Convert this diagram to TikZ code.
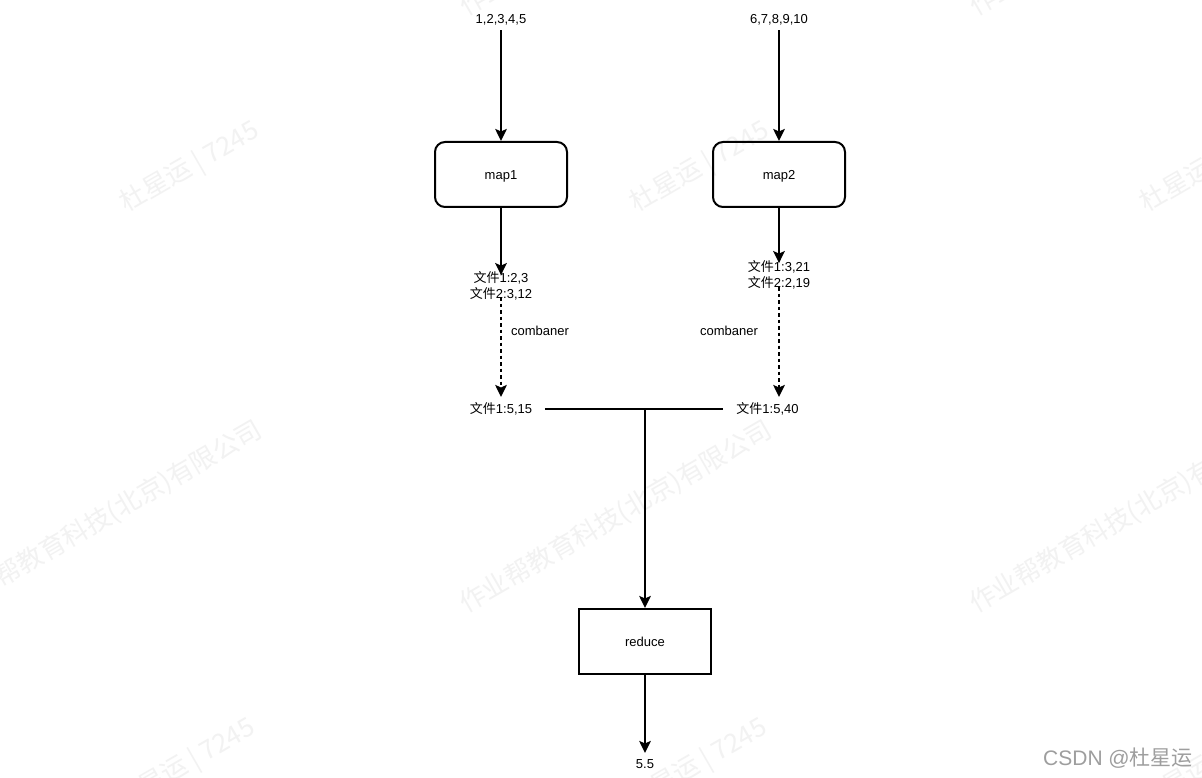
\documentclass[tikz,border=0pt]{standalone}
\usepackage{fontspec}
\setmainfont{Liberation Sans}
\newfontfamily\cjk{Noto Sans CJK SC}
\usetikzlibrary{arrows.meta}
\newcommand\wj{{\cjk 文件}}
\begin{document}
\begin{tikzpicture}[x=1pt,y=-1pt,
  lbl/.style={inner sep=0pt, font=\fontsize{13}{16}\selectfont, text height=9.5pt, text depth=0pt},
  blk/.style={inner sep=0pt, font=\fontsize{13}{16}\selectfont, align=center},
  box/.style={draw, line width=2pt, minimum width=132pt, minimum height=65pt, inner sep=0pt, font=\fontsize{13}{16}\selectfont, text height=9.5pt, text depth=0pt},
  rbox/.style={box, rounded corners=10pt},
  conn/.style={line width=2.3pt, -{Stealth[length=12pt,width=11.5pt,inset=2.5pt]}},
  dotconn/.style={conn, dash pattern=on 3.5pt off 3pt},
  wm/.style={text=black!5, rotate=30, font=\cjk\fontsize{26}{26}\selectfont, inner sep=0pt},
]
\clip (0,0) rectangle (1202,778);
\fill[white] (0,0) rectangle (1202,778);
% watermarks
\node[wm] (wa1) at (190,168) {杜星运 | 7245};
\node[wm] (wa2) at (700,168) {杜星运 | 7245};
\node[wm] (wa3) at (1210,168) {杜星运 | 7245};
\node[wm] (wa4) at (186,765) {杜星运 | 7245};
\node[wm] (wa5) at (698,765) {杜星运 | 7245};
\node[wm] (wa6) at (1210,765) {杜星运 | 7245};
\node[wm] (wb1) at (106,517) {作业帮教育科技(北京)有限公司};
\node[wm] (wb2) at (616,517) {作业帮教育科技(北京)有限公司};
\node[wm] (wb3) at (1126,517) {作业帮教育科技(北京)有限公司};
\node[wm] (wb4) at (616,-80) {作业帮教育科技(北京)有限公司};
\node[wm] (wb5) at (1126,-80) {作业帮教育科技(北京)有限公司};
% diagram
\node[lbl] (in1) at (501,19) {1,2,3,4,5};
\node[lbl] (in2) at (779,19) {6,7,8,9,10};
\node[rbox] (map1) at (501,174.5) {map1};
\node[rbox] (map2) at (779,174.5) {map2};
\node[blk] (kv1) at (501,285.6) {\wj1:2,3\\\wj2:3,12};
\node[blk] (kv2) at (779,274.6) {\wj1:3,21\\\wj2:2,19};
\node[lbl] (cb1) at (540,331) {combaner};
\node[lbl] (cb2) at (729,331) {combaner};
\node[lbl] (out1) at (501,409) {\wj1:5,15};
\node[lbl] (out2) at (767.5,409) {\wj1:5,40};
\node[box] (red) at (645,641.5) {reduce};
\node[lbl] (res) at (645,763.5) {5.5};
\node[text=black!38, font=\fontsize{21}{21}\selectfont, inner sep=0pt] (csdn) at (1118,758) {CSDN @{\cjk 杜星运}};
\coordinate (j) at (645,409);
% connectors
\draw[conn] ([yshift=-11.5pt]in1.center) -- (map1.north);
\draw[conn] ([yshift=-11.5pt]in2.center) -- (map2.north);
\draw[conn] (map1.south) -- ([yshift=10.5pt]kv1.center);
\draw[conn] (map2.south) -- ([yshift=11.5pt]kv2.center);
\draw[dotconn] ([yshift=-11.5pt]kv1.center) -- ([yshift=12pt]out1.center);
\draw[dotconn] ([yshift=-12.5pt]kv2.center) -- ([yshift=12pt]kv2.center |- out2.center);
\draw[line width=2.3pt] ([xshift=12.5pt]out1.east) -- ([xshift=-13pt]out2.west);
\draw[conn] (j) -- (red.north);
\draw[conn] (red.south) -- ([yshift=10.5pt]res.center);
\end{tikzpicture}
\end{document}
